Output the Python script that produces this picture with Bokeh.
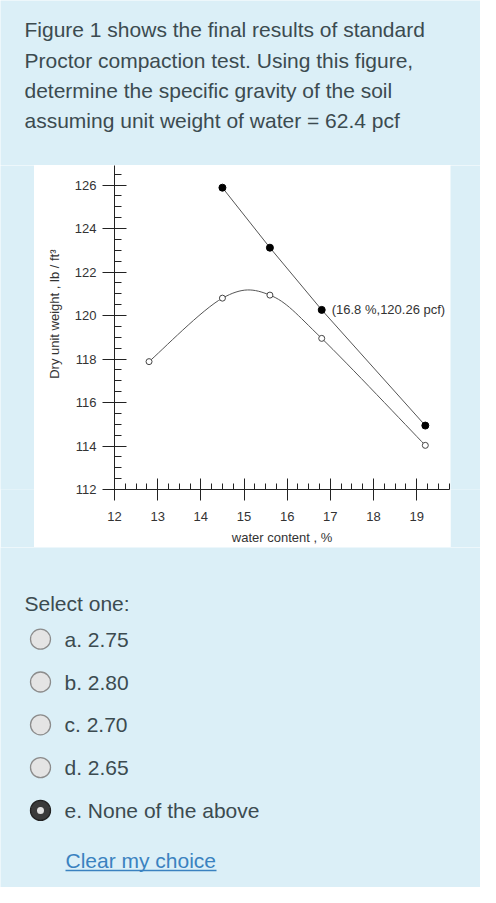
import numpy as np
from bokeh.plotting import figure
from bokeh.layouts import column, row
from bokeh.models import Range1d, FixedTicker, Label, Title
from bokeh.embed import file_html
from bokeh.resources import INLINE
from bokeh.core.properties import value

# ---------------- data ----------------
question_lines = [
    "Figure 1 shows the final results of standard",
    "Proctor compaction test. Using this figure,",
    "determine the specific gravity of the soil",
    "assuming unit weight of water = 62.4 pcf",
]
# compaction curve (open circles)
water_compaction = [12.8, 14.5, 15.6, 16.8, 19.2]
dry_compaction = [117.88, 120.80, 120.94, 118.95, 114.03]
# straight line (filled circles)
water_line = [14.5, 15.6, 16.8, 19.2]
dry_line = [125.88, 123.12, 120.26, 114.94]
highlight_index = 2

x_ticks = [12, 13, 14, 15, 16, 17, 18, 19]
y_ticks = [112, 114, 116, 118, 120, 122, 124, 126]
x_label = "water content , %"
y_label = "Dry unit weight , lb / ft\u00b3"

prompt = "Select one:"
options = ["a. 2.75", "b. 2.80", "c. 2.70", "d. 2.65", "e. None of the above"]
selected_index = 4
link_text = "Clear my choice"

# ---------------- styles ----------------
BG = "#dbeff7"
TXT = "#3c4b50"
LINK = "#3a82c0"
FONT = value("Liberation Sans")
W = 480
TOP_H, MID_H, BOT_H = 165, 382, 340
LEFT_PAD, RIGHT_PAD = 34, 30
CHART_W = W - LEFT_PAD - RIGHT_PAD
X0, X1, Y0, Y1 = 12, 19.76, 112, 126.9


def blank(width, height):
    f = figure(width=width, height=height, x_range=Range1d(0, width),
               y_range=Range1d(height, 0),
               x_axis_location=None, y_axis_location=None,
               toolbar_location=None, output_backend="svg",
               min_border=0, min_border_left=0, min_border_right=0,
               min_border_top=0, min_border_bottom=0)
    f.grid.visible = False
    f.background_fill_color = BG
    f.border_fill_color = BG
    f.outline_line_color = None
    return f


# ---------------- top text ----------------
top = blank(W, TOP_H)
top_centers = [29.2 + 30.3 * i for i in range(len(question_lines))]
top.text(x=[24] * len(question_lines), y=top_centers, text=question_lines,
         text_font=FONT, text_font_size="21px", text_color=TXT,
         text_baseline="middle", text_align="left")

# ---------------- chart ----------------
p = figure(width=CHART_W, height=MID_H,
           x_range=Range1d(X0, X1), y_range=Range1d(Y0, Y1),
           toolbar_location=None, output_backend="svg",
           min_border_left=78, min_border_right=1,
           min_border_top=0, min_border_bottom=57)
p.background_fill_color = "white"
p.border_fill_color = "white"
p.outline_line_color = None
p.grid.visible = False

xminor = [12 + 0.25 * i for i in range(32) if (0.25 * i) % 1 != 0]
yminor = [112 + 0.5 * i for i in range(30) if (0.5 * i) % 2 != 0]
p.xaxis.ticker = FixedTicker(ticks=x_ticks, minor_ticks=xminor)
p.yaxis.ticker = FixedTicker(ticks=y_ticks, minor_ticks=yminor)

for ax in (p.xaxis[0], p.yaxis[0]):
    ax.axis_line_color = "#222222"
    ax.major_tick_line_color = "#222222"
    ax.minor_tick_line_color = "#222222"
    ax.major_label_text_font = "Liberation Sans"
    ax.major_label_text_font_size = "13px"
    ax.major_label_text_color = "#333333"
    ax.axis_label_text_font = "Liberation Sans"
    ax.axis_label_text_font_size = "13px"
    ax.axis_label_text_font_style = "normal"
    ax.axis_label_text_color = "#333333"

p.xaxis.major_tick_in = 11
p.xaxis.major_tick_out = 11
p.xaxis.minor_tick_in = 6
p.xaxis.minor_tick_out = 0
p.xaxis.major_label_standoff = 11
p.xaxis.axis_label = x_label
p.xaxis.axis_label_standoff = 6

p.yaxis.major_tick_in = 12
p.yaxis.major_tick_out = 12
p.yaxis.minor_tick_in = 7
p.yaxis.minor_tick_out = 0
p.yaxis.major_label_standoff = 6

ytitle = Title(text=y_label, align="right", offset=84,
               text_font="Liberation Sans", text_font_size="13px",
               text_font_style="normal", text_color="#333333", standoff=20)
p.add_layout(ytitle, "left")

# smooth compaction curve via Catmull-Rom Bezier segments
xs = np.array(water_compaction, dtype=float)
ys = np.array(dry_compaction, dtype=float)
xp = np.concatenate([[xs[0]], xs, [xs[-1]]])
yp = np.concatenate([[ys[0]], ys, [ys[-1]]])
n = len(xs) - 1
x0 = xs[:-1]; y0 = ys[:-1]; x1 = xs[1:]; y1 = ys[1:]
cx0 = xp[1:n + 1] + (xp[2:n + 2] - xp[0:n]) / 6.0
cy0 = yp[1:n + 1] + (yp[2:n + 2] - yp[0:n]) / 6.0
cx1 = xp[2:n + 2] - (xp[3:n + 3] - xp[1:n + 1]) / 6.0
cy1 = yp[2:n + 2] - (yp[3:n + 3] - yp[1:n + 1]) / 6.0
p.bezier(x0=x0, y0=y0, x1=x1, y1=y1, cx0=cx0, cy0=cy0, cx1=cx1, cy1=cy1,
         line_color="#555555", line_width=1)
p.scatter(water_compaction, dry_compaction, size=6, marker="circle",
          fill_color="white", line_color="#444444", line_width=1)

p.line(water_line, dry_line, line_color="#555555", line_width=1)
p.scatter(water_line, dry_line, size=7, marker="circle",
          fill_color="black", line_color="black")

hx, hy = water_line[highlight_index], dry_line[highlight_index]
p.add_layout(Label(x=hx, y=hy, x_offset=10, text=f"({hx} %,{hy} pcf)",
                   text_font="Liberation Sans", text_font_size="13px",
                   text_color="#333333", text_baseline="middle"))

left_pad = blank(LEFT_PAD, MID_H)
right_pad = blank(RIGHT_PAD, MID_H)

# ---------------- bottom options ----------------
bot = blank(W, BOT_H)
bot.text(x=[24], y=[56], text=[prompt], text_font=FONT, text_font_size="21px",
         text_color=TXT, text_baseline="middle")
radio_y = [91.7 + 42.8 * i for i in range(len(options))]
unsel = [i for i in range(len(options)) if i != selected_index]
bot.scatter([40] * len(unsel), [radio_y[i] for i in unsel], size=20, marker="circle",
            fill_color="#e4e4e4", line_color="#8c8c8c", line_width=1.3)
bot.scatter([40], [radio_y[selected_index]], size=20, marker="circle",
            fill_color="#3a3a3a", line_color="#222222", line_width=1.3)
bot.scatter([40], [radio_y[selected_index]], size=7, marker="circle",
            fill_color="#e0e0e0", line_color=None)
bot.text(x=[64] * len(options), y=radio_y, text=options,
         text_font=FONT, text_font_size="21px", text_color=TXT,
         text_baseline="middle")
link_y = 313
bot.text(x=[65], y=[link_y], text=[link_text], text_font=FONT,
         text_font_size="21px", text_color=LINK, text_baseline="middle")
bot.line(x=[65, 216], y=[link_y + 10, link_y + 10], line_color=LINK, line_width=1.3)

layout = column(top, row(left_pad, p, right_pad), bot)

open("out.html", "w").write(file_html(layout, INLINE))
